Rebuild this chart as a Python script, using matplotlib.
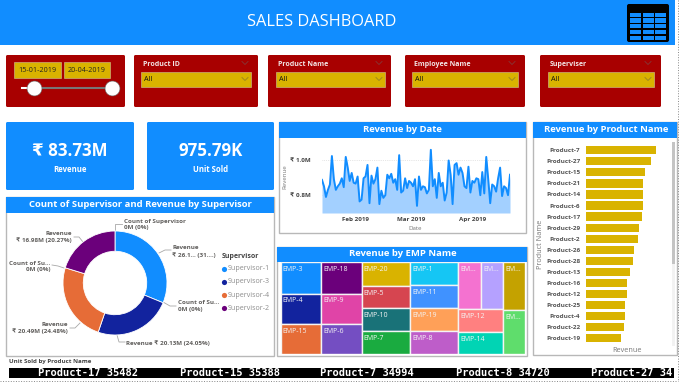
# Sales dashboard rebuilt with matplotlib, every panel placed in pixels of the 680x384 picture
import pandas as pd
import matplotlib
matplotlib.use("Agg")
from matplotlib import pyplot as plt
from matplotlib.patches import Rectangle, FancyBboxPatch
import matplotlib.dates as mdates

plt.rcParams['font.family'] = ['Open Sans', 'DejaVu Sans']

W, H = 680, 384
BLUE = "#118DFF"
RED = "#A80000"
GOLD = "#D9B300"

# Data
slicer_titles = ["Product ID", "Product Name", "Employee Name", "Superviser"]
date_from, date_to = "15-01-2019", "20-04-2019"
kpi_values = ["₹ 83.73M", "975.79K"]
kpi_labels = ["Revenue", "Unit Sold"]

supervisors = ["Supervisor-1", "Supervisor-3", "Supervisor-4", "Supervisor-2"]
supervisor_revenue = [26.13, 20.13, 20.49, 16.98]
supervisor_colors = [BLUE, "#12239E", "#E66C37", "#6B007B"]

revenue_by_date = [
    .886, .85, .79, .83, .86, 1.02, .89, .83, .85, .865, .895, .845,
    1.015, .955, .88, .925, .87, .865, .905, .765, .775, .895, .905, .97,
    .755, .91, .865, .89, .955, .75, .825, .785, .80, .915, .895, .92,
    .87, .89, .83, 1.025, .815, .825, .895, .84, .88, .87, .85, .89,
    .74, .905, .83, .85, .845, .81, .83, 1.055, .85, .89, .785, .925,
    .85, .87, .77, .815, .995, .915, .75, .97, .98, .915, .955, .925,
    .85, .84, .96, .815, .88, .87, .895, .89, .80, .93, .81, 1.015,
    .89, .755, .86, .85, .82, .895, .955, .795, .85, .84, .80, .915]

emp_names = ["EMP-3", "EMP-4", "EMP-15", "EMP-18", "EMP-9", "EMP-6", "EMP-20", "EMP-5", "EMP-10",
             "EMP-7", "EMP-1", "EMP-11", "EMP-19", "EMP-8", "EM...", "EM...", "EMP-12", "EMP-14",
             "EM...", "EM..."]
emp_revenue = [4.6, 4.5, 4.3, 4.52, 4.42, 4.23, 4.1, 3.92, 3.92, 3.98, 3.98, 3.92, 3.92, 3.87,
               3.83, 3.66, 3.67, 3.5, 3.74, 3.4]
emp_colors = [BLUE, "#12239E", "#E66C37", "#6B007B", "#E044A7", "#744EC2", GOLD, "#D64550", "#197278",
              "#1AAB40", "#15C6F4", "#4092FF", "#FFA058", "#BE5DC9", "#F472D0", "#B5A1FF", "#FF8080",
              "#01D4B4", "#C4A200", "#5FDD6C"]
# treemap columns -> rows -> cells, as indexes into the lists above
emp_layout = [[[0], [1], [2]], [[3], [4], [5]], [[6], [7], [8], [9]], [[10], [11], [12], [13]],
              [[14, 15], [16], [17]], [[18], [19]]]

products = ["Product-7", "Product-27", "Product-15", "Product-21", "Product-14", "Product-6",
            "Product-17", "Product-29", "Product-2", "Product-26", "Product-28", "Product-13",
            "Product-16", "Product-12", "Product-25", "Product-4", "Product-22", "Product-19"]
product_revenue = [3.9, 3.64, 3.31, 3.21, 3.19, 3.18, 3.16, 2.99, 2.9, 2.69, 2.62, 2.47, 2.3, 2.3,
                   2.21, 2.17, 2.12, 1.97]

ticker_items = ["Product-17 35482", "Product-15 35388", "Product-7 34994", "Product-8 34720",
                "Product-27 34"]


def px_axes(x0, y0, x1, y1):
    # axes from picture pixels, y counted from the top
    a = fig.add_axes([x0 / W, 1 - y1 / H, (x1 - x0) / W, (y1 - y0) / H])
    a.patch.set_alpha(0)
    return a


def box(x0, y0, x1, y1, color, round_px=1.5, edge="none", lw=0, z=1):
    base.add_patch(FancyBboxPatch((x0 + round_px, y0 + round_px), x1 - x0 - 2 * round_px, y1 - y0 - 2 * round_px,
                                  boxstyle="round,pad=%s,rounding_size=%s" % (round_px, round_px),
                                  fc=color, ec=edge, lw=lw, zorder=z))


def rect(x0, y0, x1, y1, color, edge="none", lw=0, z=1):
    base.add_patch(Rectangle((x0, y0), x1 - x0, y1 - y0, fc=color, ec=edge, lw=lw, zorder=z))


def chevron(x, y, color):
    base.plot([x - 3, x, x + 3], [y - 1.5, y + 1.5, y - 1.5], color=color, lw=0.7, zorder=4)


def panel(x0, y0, x1, y1, title, title_x):
    rect(x0, y0, x1, y1, "white", edge="#B8B8B8", lw=1)
    rect(x0, y0, x1, y0 + 15.5, BLUE, z=2)
    base.text(title_x, y0 + 7.5, title, color="white", fontsize=6.8, fontweight="bold",
              ha="center", va="center", zorder=3)


fig = plt.figure(figsize=(W / 100, H / 100), dpi=100, facecolor="white")
base = fig.add_axes([0, 0, 1, 1])
base.set_xlim(0, W)
base.set_ylim(H, 0)
base.axis("off")

# Header with the table icon
rect(0, 0, 674.5, 45, BLUE)
base.text(322, 22.5, "SALES DASHBOARD", color="white", fontsize=11.8, ha="center", va="center", zorder=3)
box(627, 4, 669, 42, "black", round_px=2, z=2)
for r in range(5):
    for c in range(3):
        rect(630 + c * 12.7, 12.5 + r * 5.8, 641 + c * 12.7, 16.8 + r * 5.8, BLUE, z=3)

# Slicers
box(6, 55, 125, 107, RED)
for x0, x1, d in [(14, 61, date_from), (64, 110, date_to)]:
    rect(x0, 62, x1, 78, GOLD, edge="#C9B27A", lw=0.5, z=2)
    base.text((x0 + x1) / 2, 70, d, color="#222222", fontsize=5.2, ha="center", va="center", zorder=3)
base.plot([22, 33], [88, 88], color="white", lw=1.5, zorder=2)
base.plot([33, 112], [88, 88], color="#777777", lw=1.5, zorder=2)
base.scatter([34, 112], [88, 88], s=115, color="white", edgecolor="#666666", linewidth=0.4, zorder=3)

slicer_boxes = [(134, 258, 141, 251), (268, 391, 276, 385), (405, 525, 412, 518), (540, 661, 548, 654)]
for name, (x0, x1, d0, d1) in zip(slicer_titles, slicer_boxes):
    box(x0, 55, x1, 107, RED)
    rect(d0, 72, d1, 87, GOLD, edge="#C9B27A", lw=0.5, z=2)
    base.text(d0 + 2, 64, name, color="#F2E6E6", fontsize=5.0, fontweight="bold", va="center", zorder=3)
    base.text(d0 + 3, 79.5, "All", color="#111111", fontsize=5.2, va="center", zorder=3)
    chevron(d1 - 6, 63, "#8A3030")
    chevron(d1 - 6, 79, "#A08A20")

# KPI cards
for x0, x1, v, l in zip([6, 147], [134, 274], kpi_values, kpi_labels):
    box(x0, 122, x1, 190, BLUE)
    base.text((x0 + x1) / 2, 151, v, color="white", fontsize=12.2, fontweight="bold", ha="center", va="center", zorder=3)
    base.text((x0 + x1) / 2, 169, l, color="white", fontsize=5.6, fontweight="bold", ha="center", va="center", zorder=3)

# Donut
panel(5.5, 197, 273.5, 355.5, "Count of Supervisor and Revenue by Supervisor", 140)
ax1 = px_axes(63, 231, 167, 335)
ax1.pie(supervisor_revenue, colors=supervisor_colors, startangle=90, counterclock=False, radius=1,
        wedgeprops={"width": 0.39, "edgecolor": "white", "linewidth": 0.6})
ax1.set_xlim(-1, 1)
ax1.set_ylim(-1, 1)

donut_labels = [
    (123.5, 224.5, "left", "Count of Supervisor\n0M (0%)", [(115, 231), (115, 224), (122, 224)]),
    (172.5, 251.5, "left", "Revenue\n₹ 26.1... (31....)", [(159, 253), (165, 250), (171, 250)]),
    (178, 306, "left", "Count of Su...\n0M (0%)", [(163, 302), (170, 306), (176, 306)]),
    (126.5, 342.7, "left", "Revenue ₹ 20.13M (24.05%)", [(117, 335), (119, 342), (125, 342)]),
    (67.7, 328.3, "right", "Revenue\n₹ 20.49M (24.48%)", [(80, 323), (75, 328), (70, 328)]),
    (50, 266.3, "right", "Count of Su...\n0M (0%)", [(64, 268), (58, 266), (52, 265)]),
    (71.7, 236.7, "right", "Revenue\n₹ 16.98M (20.27%)", [(83, 242), (79, 237), (74, 237)]),
]
for x, y, side, label, leader in donut_labels:
    base.text(x, y, label, color="#605E5C", fontsize=4.5, fontweight="bold", ha=side, va="center",
              linespacing=1.3, zorder=3)
    base.plot([p[0] for p in leader], [p[1] for p in leader], color="#A8A8A8", lw=0.6, zorder=3)

base.text(221.7, 256.5, "Supervisor", color="#444444", fontsize=5.0, fontweight="bold", va="center", zorder=3)
for i, (name, color) in enumerate(zip(supervisors, supervisor_colors)):
    y = 268.5 + i * 13.3
    base.scatter([224], [y], s=14, color=color, linewidth=0, zorder=3)
    base.text(228, y, name, color="#8C8C8C", fontsize=5.1, va="center", zorder=3)

# Revenue by date
panel(278.5, 122, 525.5, 233, "Revenue by Date", 402.5)
dates = pd.date_range("2019-01-15", periods=len(revenue_by_date), freq="D")
ax2 = px_axes(322, 145, 510, 213)
ax2.fill_between(dates, revenue_by_date, 0.7, color="#A3D0FF", lw=0)
ax2.plot(dates, revenue_by_date, color=BLUE, lw=1.4)
ax2.set_xlim(dates[0], dates[-1])
ax2.set_ylim(0.7, 1.082)
ax2.set_yticks([0.8, 1.0])
ax2.set_yticklabels(["₹ 0.8M", "₹ 1.0M"])
ax2.xaxis.set_major_locator(mdates.MonthLocator())
ax2.xaxis.set_major_formatter(mdates.DateFormatter("%b %Y"))
ax2.tick_params(length=0, labelsize=4.5, labelcolor="#444444", pad=3)
ax2.tick_params(axis="y", pad=8)
for t in ax2.get_xticklabels() + ax2.get_yticklabels():
    t.set_fontweight("bold")
ax2.grid(axis="y", color="#CFCFCF", lw=0.5, ls=":")
ax2.set_axisbelow(True)
for s in ax2.spines.values():
    s.set_visible(False)
base.text(415.5, 228, "Date", color="#777777", fontsize=4.4, ha="center", va="center", zorder=3)
base.text(285, 177, "Revenue", color="#777777", fontsize=4.4, rotation=90, ha="center", va="center", zorder=3)

# Treemap, column widths and row heights come from the revenue values
panel(277, 246.5, 527, 356, "Revenue by EMP Name", 403)
ax3 = px_axes(280.5, 262, 525, 354)
ax3.set_xlim(0, 1)
ax3.set_ylim(1, 0)
ax3.axis("off")
total = sum(emp_revenue)
cx = 0
for column in emp_layout:
    col_total = sum(emp_revenue[i] for row in column for i in row)
    cw = col_total / total
    cy = 0
    for row in column:
        row_total = sum(emp_revenue[i] for i in row)
        rh = row_total / col_total
        rx = cx
        for i in row:
            rw = cw * emp_revenue[i] / row_total
            ax3.add_patch(Rectangle((rx, cy), rw, rh, fc=emp_colors[i], ec="#F4F4F4", lw=1))
            ax3.text(rx + 0.008, cy + 0.08, emp_names[i], color="#F4F4F4", fontsize=5.0, va="center")
            rx += rw
        cy += rh
    cx += cw

# Revenue by product
panel(533, 122, 676.5, 355, "Revenue by Product Name", 606)
rect(671.5, 142, 675, 346, "#F2F2F2", z=3)
rect(671.5, 142, 675, 263.5, "#C4C4C4", z=3)
ax4 = px_axes(585.7, 144.8, 670, 343.5)
ax4.barh(products, product_revenue, height=0.74, color=GOLD)
ax4.set_ylim(17.5, -0.5)
ax4.set_xlim(0, 4.7)
ax4.set_xticks([])
ax4.tick_params(axis="y", length=0, labelsize=4.6, labelcolor="#555555", pad=4)
for t in ax4.get_yticklabels():
    t.set_fontweight("bold")
for s in ax4.spines.values():
    s.set_visible(False)
base.text(627, 350, "Revenue", color="#777777", fontsize=5.2, ha="center", va="center", zorder=3)
base.text(541, 244, "Product Name", color="#777777", fontsize=5.2, rotation=90, ha="center", va="center", zorder=3)

# Ticker along the bottom
base.text(8.7, 361, "Unit Sold by Product Name", color="#444444", fontsize=4.4, fontweight="bold", va="center")
rect(9, 367.5, 673.5, 378, "black")
ticker_x = [38, 180, 320, 456, 591]
for x, item in zip(ticker_x, ticker_items):
    base.text(x, 372.7, item, color="white", family="DejaVu Sans Mono", fontsize=7.5, fontweight="bold",
              va="center", zorder=3)

# dotted border of the screenshot
base.plot([677.5, 677.5], [0, 381], color="#888888", lw=0.7, ls=":")
base.plot([0, 677.5], [381, 381], color="#888888", lw=0.7, ls=":")

fig.savefig("out.png", dpi=100)
